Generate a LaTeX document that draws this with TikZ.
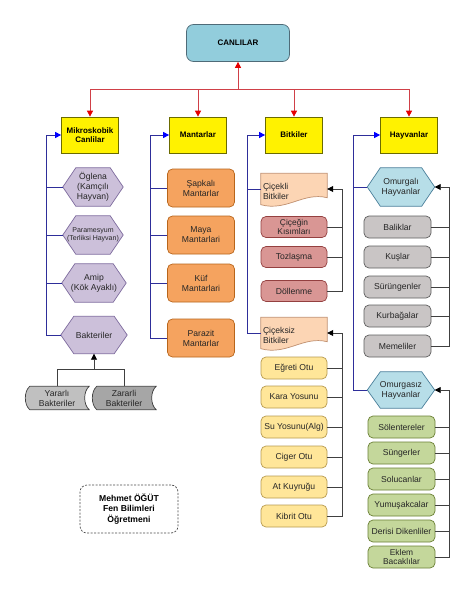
\documentclass[tikz,border=0pt]{standalone}
\usepackage{fontspec}
\setmainfont{Liberation Sans}
\usetikzlibrary{arrows.meta,calc,backgrounds}
\definecolor{canfill}{HTML}{92CDDC}
\definecolor{candraw}{HTML}{4F6B78}
\definecolor{hdrdraw}{HTML}{6B6B00}
\definecolor{lavfill}{HTML}{CCC0DA}
\definecolor{lavdraw}{HTML}{7E6B9E}
\definecolor{orfill}{HTML}{F5A35F}
\definecolor{ordraw}{HTML}{B8651B}
\definecolor{peachfill}{HTML}{FCD5B4}
\definecolor{peachdraw}{HTML}{C09070}
\definecolor{pinkfill}{HTML}{D99694}
\definecolor{pinkdraw}{HTML}{944040}
\definecolor{lyfill}{HTML}{FFE699}
\definecolor{lydraw}{HTML}{B89B50}
\definecolor{grfill}{HTML}{C9C5C5}
\definecolor{grdraw}{HTML}{5F5F5F}
\definecolor{hbfill}{HTML}{B7DEE8}
\definecolor{hbdraw}{HTML}{4A7F9A}
\definecolor{gnfill}{HTML}{C4D79B}
\definecolor{gndraw}{HTML}{6B8035}
\definecolor{yarfill}{HTML}{C0C0C0}
\definecolor{zarfill}{HTML}{A6A6A6}
\definecolor{navy}{HTML}{2E2E9A}
\definecolor{redl}{HTML}{D04048}
\begin{document}
\begin{tikzpicture}[x=1pt,y=-1pt,
  every node/.style={align=center, inner sep=1pt, text=black!85,
    font=\fontsize{8.6}{10}\selectfont},
  topbox/.style={draw=candraw, fill=canfill, rounded corners=7pt, line width=0.7pt,
    minimum width=103pt, minimum height=37pt, text=black,
    font=\fontsize{8}{9.5}\selectfont\bfseries},
  hdr/.style={draw=hdrdraw, fill=yellow, line width=0.7pt, minimum width=57pt,
    minimum height=36pt, text=black, font=\fontsize{8}{9.5}\selectfont\bfseries},
  hexarea/.style={inner sep=0pt, minimum width=60pt, minimum height=38pt},
  lavshape/.style={draw=lavdraw, fill=lavfill, line width=0.7pt},
  hbshape/.style={draw=hbdraw, fill=hbfill, line width=0.7pt},
  rbox/.style={rounded corners=5pt, line width=0.7pt, minimum width=66pt},
  orb/.style={rbox, draw=ordraw, fill=orfill, minimum width=67pt, minimum height=38pt},
  pkb/.style={rbox, draw=pinkdraw, fill=pinkfill, minimum height=21pt},
  lyb/.style={rbox, draw=lydraw, fill=lyfill, minimum height=22pt},
  grb/.style={rbox, draw=grdraw, fill=grfill, minimum width=67pt, minimum height=22pt},
  gnb/.style={rbox, draw=gndraw, fill=gnfill, minimum width=67pt, minimum height=22pt},
  docarea/.style={minimum width=66pt, minimum height=31pt},
  docshape/.style={draw=peachdraw, fill=peachfill, line width=0.7pt},
  bakarea/.style={minimum width=64pt, minimum height=23pt},
  bakshape/.style={draw=black!75, line width=0.7pt},
  bluel/.style={draw=navy, line width=0.8pt},
  bluea/.style={bluel, -{Triangle[length=6pt,width=6pt,color=blue]}},
  blackl/.style={draw=black!75, line width=0.8pt},
  blacka/.style={blackl, -{Triangle[length=6pt,width=6pt,color=black]}},
  redlin/.style={draw=redl, line width=0.8pt},
  reda/.style={redlin, -{Triangle[length=6pt,width=6pt,color=red!90!black]}},
  author/.style={draw=black!70, dash pattern=on 2pt off 1.5pt, rounded corners=7pt,
    line width=0.7pt, minimum width=98pt, minimum height=48pt, text=black,
    font=\fontsize{8.6}{10.5}\selectfont\bfseries}
]
\useasboundingbox (0,0) rectangle (474,592);
\begin{scope}[on background layer]
\fill[white] (0,0) rectangle (474,592);
\end{scope}

% top
\node[topbox] (canlilar) at (238,43) {CANLILAR};
\node[hdr] (mikro) at (90,135) {Mikroskobik\\Canlilar};
\node[hdr] (mant) at (198,135) {Mantarlar};
\node[hdr] (bitki) at (294,135) {Bitkiler};
\node[hdr] (hayvan) at (409,135) {Hayvanlar};

\coordinate (rl) at (0,89);
\draw[redlin] (mikro.north|-rl) -- (hayvan.north|-rl);
\draw[reda] (canlilar.south|-rl) -- (canlilar.south);
\foreach \n in {mikro,mant,bitki,hayvan}
  \draw[reda] (\n.north|-rl) -- (\n.north);

% column 1
\node[hexarea] (oglena) at (93,187) {Öglena\\(Kamçılı\\Hayvan)};
\node[hexarea, font=\fontsize{7}{8.5}\selectfont] (param) at (93,235) {Paramesyum\\(Terliksi Hayvan)};
\node[hexarea, minimum width=64pt] (amip) at (94,283) {Amip\\(Kök Ayaklı)};
\node[hexarea, minimum width=66pt, minimum height=37pt] (bakt) at (94,335) {Bakteriler};
\node[hexarea, minimum width=67pt] (omurgali) at (401,187) {Omurgalı\\Hayvanlar};
\node[hexarea, minimum width=67pt, minimum height=36pt] (omurgasiz) at (401,390) {Omurgasız\\Hayvanlar};
\begin{scope}[on background layer]
\foreach \n/\s in {oglena/lavshape,param/lavshape,amip/lavshape,bakt/lavshape,omurgali/hbshape,omurgasiz/hbshape}
  \path[\s] (\n.west) -- ($(\n.north west)+(13,0)$) -- ($(\n.north east)+(-13,0)$)
    -- (\n.east) -- ($(\n.south east)+(-13,0)$) -- ($(\n.south west)+(13,0)$) -- cycle;
\end{scope}
\coordinate (c1) at (46,135);
\draw[bluel] (bakt.west) -| (c1);
\draw[bluea] (c1) -- (mikro.west);
\foreach \n in {oglena,param,amip}
  \draw[bluel] (c1|-\n) -- (\n.west);

\node[bakarea] (yar) at (57,398) {};
\node[bakarea] (zar) at (124,398) {};
\begin{scope}[on background layer]
\foreach \n/\c in {yar/yarfill,zar/zarfill}
  \path[bakshape, fill=\c] ($(\n.north west)+(5,0)$) -- (\n.north east)
    .. controls ($(\n.north east)+(-6,5)$) and ($(\n.south east)+(-6,-5)$) .. (\n.south east)
    -- ($(\n.south west)+(5,0)$)
    .. controls ($(\n.south west)+(-1,-5)$) and ($(\n.north west)+(-1,5)$) .. ($(\n.north west)+(5,0)$)
    -- cycle;
\end{scope}
\node at (yar) {Yararlı\\Bakteriler};
\node at (zar) {Zararli\\Bakteriler};
\coordinate (bj) at (0,369);
\draw[blackl] (yar.north) |- (zar.north|-bj) -- (zar.north);
\draw[blacka] (bakt.south|-bj) -- (bakt.south);

% column 2
\node[orb] (sapkali) at (201,188) {Şapkalı\\Mantarlar};
\node[orb] (maya) at (201,235) {Maya\\Mantarlari};
\node[orb] (kuf) at (201,283) {Küf\\Mantarlari};
\node[orb] (parazit) at (201,338) {Parazit\\Mantarlar};
\coordinate (c2) at (150,135);
\draw[bluel] (parazit.west) -| (c2);
\draw[bluea] (c2) -- (mant.west);
\foreach \n in {sapkali,maya,kuf}
  \draw[bluel] (c2|-\n) -- (\n.west);

% column 3
\node[docarea] (cicekli) at (294,189) {};
\node[docarea] (ciceksiz) at (294,333) {};
\begin{scope}[on background layer]
\foreach \n in {cicekli,ciceksiz}
  \path[docshape] (\n.south west) -- (\n.north west) -- (\n.north east)
    -- ($(\n.south east)+(0,-7)$)
    .. controls ($(\n.south east)+(-24,-13)$) and ($(\n.south west)+(26,7)$) .. (\n.south west)
    -- cycle;
\end{scope}
\node[anchor=west, align=left] at ($(cicekli.west)+(1,2)$) {Çiçekli\\Bitkiler};
\node[anchor=west, align=left] at ($(ciceksiz.west)+(1,2)$) {Çiçeksiz\\Bitkiler};
\coordinate (c3) at (247,135);
\draw[bluel] (ciceksiz.west) -| (c3);
\draw[bluea] (c3) -- (bitki.west);
\draw[bluel] (c3|-cicekli) -- (cicekli.west);

\node[pkb, font=\fontsize{8.4}{9.4}\selectfont] (kisim) at (294,227) {Çiçeğin\\Kısımları};
\node[pkb] (tozl) at (294,257) {Tozlaşma};
\node[pkb] (doll) at (294,291) {Döllenme};
\coordinate (k1) at (342,189);
\draw[blackl] (doll.east) -| (k1);
\draw[blacka] (k1) -- (cicekli.east);
\foreach \n in {kisim,tozl}
  \draw[blackl] (\n.east) -- (k1|-\n);

\node[lyb] (egreti) at (294,368) {Eğreti Otu};
\node[lyb] (kara) at (294,397) {Kara Yosunu};
\node[lyb] (suyos) at (294,427) {Su Yosunu(Alg)};
\node[lyb] (ciger) at (294,457) {Ciger Otu};
\node[lyb] (atk) at (294,487) {At Kuyruğu};
\node[lyb] (kibrit) at (294,516) {Kibrit Otu};
\coordinate (k2) at (342,333);
\draw[blackl] (kibrit.east) -| (k2);
\draw[blacka] (k2) -- (ciceksiz.east);
\foreach \n in {egreti,kara,suyos,ciger,atk}
  \draw[blackl] (\n.east) -- (k2|-\n);

% column 4
\coordinate (c4) at (353,135);
\draw[bluel] (omurgasiz.west) -| (c4);
\draw[bluea] (c4) -- (hayvan.west);
\draw[bluel] (c4|-omurgali) -- (omurgali.west);

\node[grb] (balik) at (397.5,227) {Baliklar};
\node[grb] (kus) at (397.5,257) {Kuşlar};
\node[grb] (surun) at (397.5,287) {Sürüngenler};
\node[grb] (kurb) at (397.5,316) {Kurbağalar};
\node[grb] (meme) at (397.5,346) {Memeliler};
\coordinate (k3) at (449,187);
\draw[blackl] (meme.east) -| (k3);
\draw[blacka] (k3) -- (omurgali.east);
\foreach \n in {balik,kus,surun,kurb}
  \draw[blackl] (\n.east) -- (k3|-\n);

\node[gnb] (solen) at (401.5,427) {Sölentereler};
\node[gnb] (sung) at (401.5,453) {Süngerler};
\node[gnb] (soluc) at (401.5,479) {Solucanlar};
\node[gnb] (yumus) at (401.5,505) {Yumuşakcalar};
\node[gnb, inner sep=0pt] (derisi) at (401.5,531) {Derisi Dikenliler};
\node[gnb, font=\fontsize{8.4}{9.2}\selectfont] (eklem) at (401.5,557) {Eklem\\Bacaklılar};
\coordinate (k4) at (449,390);
\draw[blackl] (eklem.east) -| (k4);
\draw[blacka] (k4) -- (omurgasiz.east);
\foreach \n in {solen,sung,soluc,yumus,derisi}
  \draw[blackl] (\n.east) -- (k4|-\n);

% author
\node[author] (yazar) at (129,509) {Mehmet ÖĞÜT\\Fen Bilimleri\\Öğretmeni};
\end{tikzpicture}
\end{document}
